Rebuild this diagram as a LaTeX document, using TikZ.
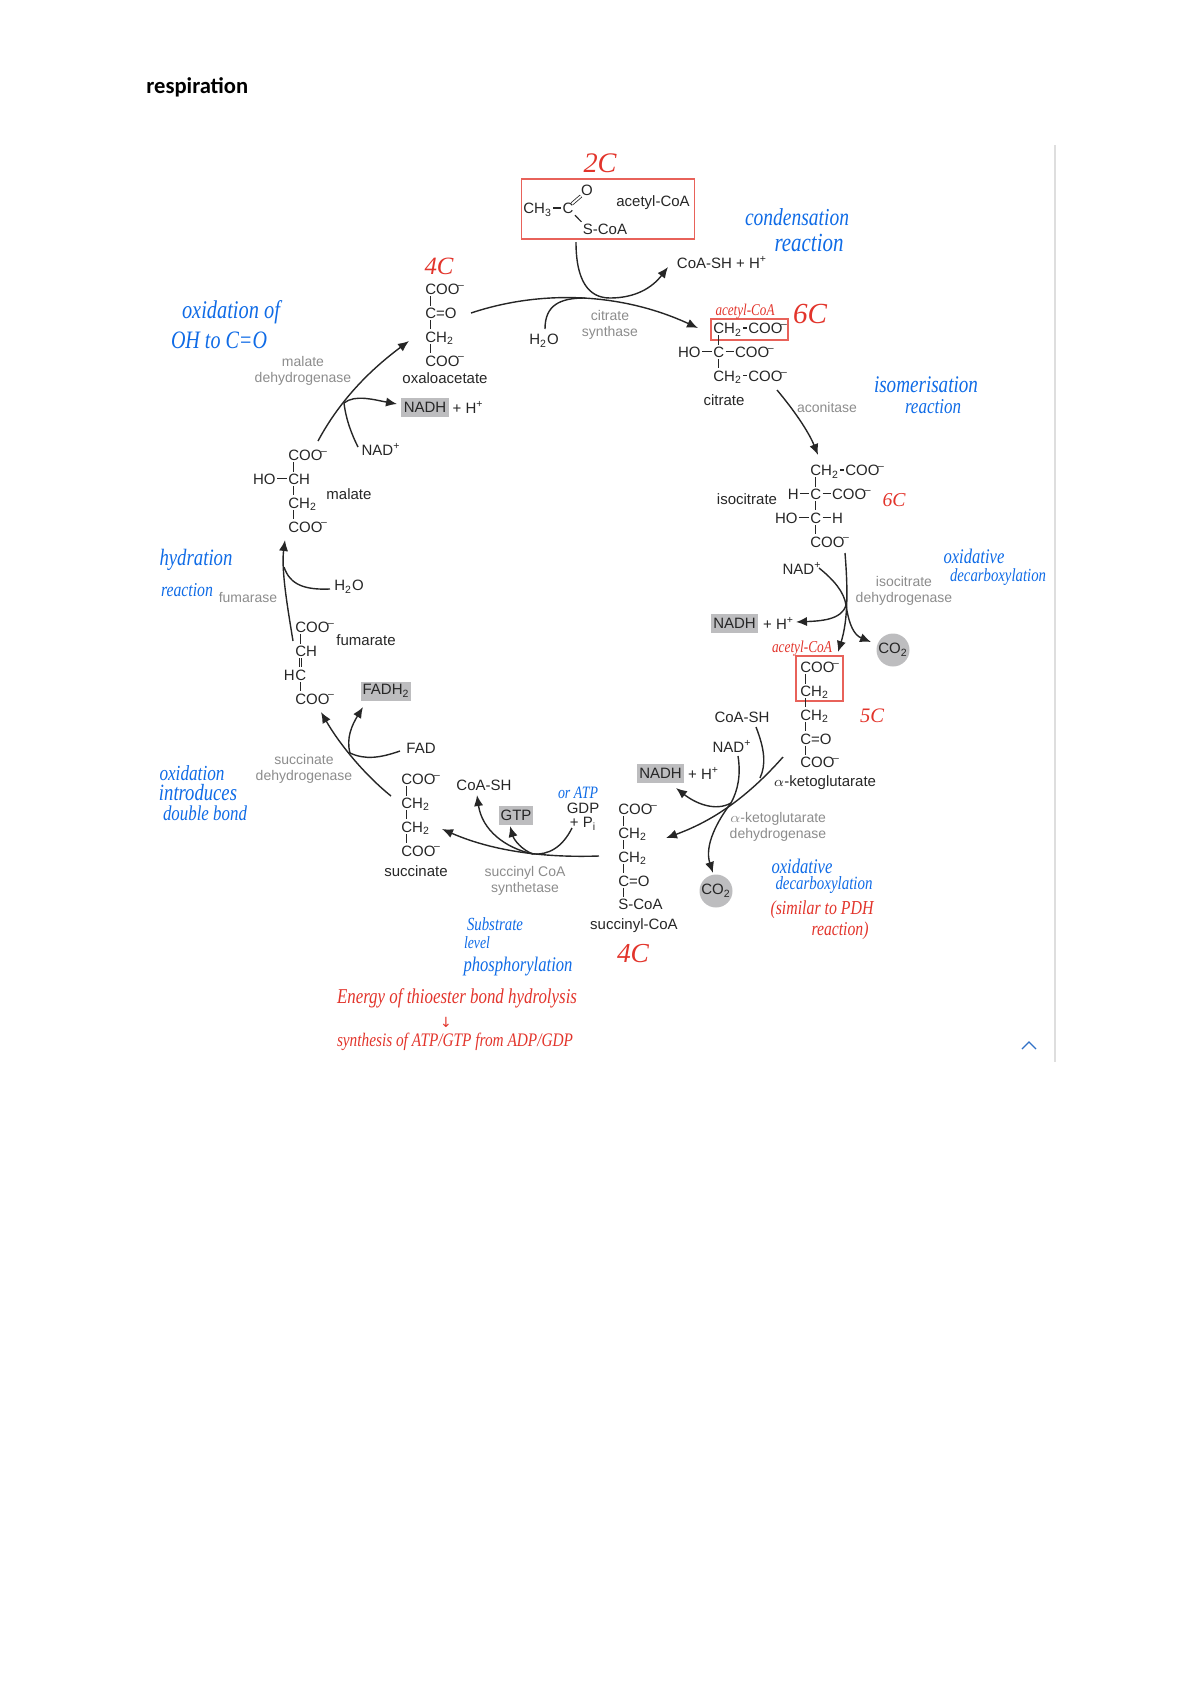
\documentclass[tikz,border=0pt]{standalone}
\usepackage{fontspec}
\usepackage{graphicx}
\setmainfont{Liberation Sans}
\newfontfamily\titlefont{Carlito}
\newfontfamily\handfont{Liberation Serif}
\newfontfamily\symfont{DejaVu Sans}
\usetikzlibrary{positioning, arrows.meta}
\definecolor{inkblack}{HTML}{262626}
\definecolor{enzymegray}{HTML}{8C8C8C}
\definecolor{hlgray}{HTML}{BDBDBF}
\definecolor{penblue}{HTML}{0F6BE6}
\definecolor{penred}{HTML}{E2342B}
\definecolor{boxred}{HTML}{E8625A}
\newcommand{\cooneg}{COO\kern-0.7pt\textsuperscript{--}}
\newcommand{\chtwo}{CH\textsubscript{2}}
\newcommand{\hand}[2]{\scalebox{1}[1.25]{\resizebox{#1}{!}{\handfont\itshape #2}}}
\newcommand{\carbons}[2]{\resizebox{#1}{!}{\handfont\itshape #2}}

\begin{document}
\begin{tikzpicture}[x=0.5pt, y=-0.5pt]
	% Define styles
	\tikzset{
		chem/.style={font=\fontsize{7.5}{9}\selectfont, text=inkblack, anchor=west, inner xsep=0.5pt, inner ysep=0.6pt, text height=5.6pt, text depth=0pt},
		rowbelow/.style={below=4.7pt of #1.south west, anchor=north west},
		cx/.style={xshift=3.2pt},
		molname/.style={font=\fontsize{7.5}{9}\selectfont, text=inkblack, inner sep=1pt},
		enzyme/.style={font=\fontsize{7}{7.75}\selectfont, text=enzymegray, align=center, inner sep=1pt},
		highlight/.style={font=\fontsize{7.5}{9}\selectfont, text=inkblack, fill=hlgray, inner xsep=1.3pt, minimum height=9.5pt, inner ysep=0pt},
		gas/.style={circle, fill=hlgray, text=inkblack, font=\fontsize{7.5}{9}\selectfont, minimum size=16.5pt, inner sep=0pt},
		redbox/.style={rectangle, draw=boxred, line width=0.7pt, inner sep=0pt},
		bluenote/.style={text=penblue, inner sep=0pt},
		rednote/.style={text=penred, inner sep=0pt},
		bond/.style={draw=inkblack, line width=0.55pt},
		line/.style={draw=inkblack, line width=0.7pt, -{Latex[length=5.5pt, width=4.6pt]}},
		feed/.style={draw=inkblack, line width=0.7pt}
	}
	\useasboundingbox (0,0) rectangle (1200,1698);

	% Page furniture
	\node[anchor=base west, inner sep=0pt, font=\titlefont\bfseries\fontsize{11.3}{13}\selectfont] (title) at (146,93) {respiration};
	\coordinate (rulea) at (1055,145);
	\coordinate (ruleb) at (1055,1062);
	\draw[draw=black!13, line width=0.6pt] (rulea) -- (ruleb);
	\coordinate (chevl) at (1022,1049);
	\coordinate (chevm) at (1029,1042);
	\coordinate (chevr) at (1036,1049);
	\draw[draw=penblue!70!gray, line width=0.6pt] (chevl) -- (chevm) -- (chevr);

	% Acetyl-CoA
	\node[redbox, minimum width=86.5pt, minimum height=30pt] (acbox) at (608,209) {};
	\node[chem] (acch) at (522,208) {CH\textsubscript{3}};
	\node[chem, right=4pt of acch] (acc) {C};
	\node[chem, anchor=center] (aco) at (587,190) {O};
	\node[chem, anchor=center] (acs) at (605,229) {S-CoA};
	\node[molname] (acname) at (653,203) {acetyl-CoA};
	\draw[bond] (acch) -- (acc);
	\draw[bond, double, double distance=0.9pt, line width=0.4pt] ([shift={(-1.5pt,-1.5pt)}]acc.north east) -- ([shift={(0.6pt,0.6pt)}]aco.south west);
	\draw[bond] (acc.south east) -- (acs.north west);

	% Oxaloacetate
	\node[chem] (ox1) at (424,289) {\cooneg};
	\node[chem, rowbelow=ox1] (ox2) {C=O};
	\node[chem, rowbelow=ox2] (ox3) {\chtwo};
	\node[chem, rowbelow=ox3] (ox4) {\cooneg};
	\node[molname] (oxname) at (445,378) {oxaloacetate};
	\draw[bond] ([cx]ox1.south west) -- ([cx]ox2.north west);
	\draw[bond] ([cx]ox2.south west) -- ([cx]ox3.north west);
	\draw[bond] ([cx]ox3.south west) -- ([cx]ox4.north west);

	% Citrate
	\node[redbox, minimum width=38.5pt, minimum height=10.5pt] (cibox) at (749.5,329.5) {};
	\node[chem] (ci1) at (712,328) {\chtwo};
	\node[chem, right=1.8pt of ci1] (ci1o) {\cooneg};
	\node[chem, rowbelow=ci1] (ci2) {C};
	\node[chem, left=5pt of ci2] (ci2h) {HO};
	\node[chem, right=4pt of ci2] (ci2o) {\cooneg};
	\node[chem, rowbelow=ci2] (ci3) {\chtwo};
	\node[chem, right=1.8pt of ci3] (ci3o) {\cooneg};
	\node[molname] (ciname) at (724,400) {citrate};
	\draw[bond] (ci1) -- (ci1o);
	\draw[bond] (ci2h) -- (ci2);
	\draw[bond] (ci2) -- (ci2o);
	\draw[bond] (ci3) -- (ci3o);
	\draw[bond] ([cx]ci1.south west) -- ([cx]ci2.north west);
	\draw[bond] ([cx]ci2.south west) -- ([cx]ci3.north west);

	% Isocitrate
	\node[chem] (is1) at (809,470) {\chtwo};
	\node[chem, right=1.8pt of is1] (is1o) {\cooneg};
	\node[chem, rowbelow=is1] (is2) {C};
	\node[chem, left=4.5pt of is2] (is2h) {H};
	\node[chem, right=4pt of is2] (is2o) {\cooneg};
	\node[chem, rowbelow=is2] (is3) {C};
	\node[chem, left=5pt of is3] (is3h) {HO};
	\node[chem, right=4pt of is3] (is3r) {H};
	\node[chem, rowbelow=is3] (is4) {\cooneg};
	\node[molname] (isname) at (747,499) {isocitrate};
	\draw[bond] (is1) -- (is1o);
	\draw[bond] (is2h) -- (is2);
	\draw[bond] (is2) -- (is2o);
	\draw[bond] (is3h) -- (is3);
	\draw[bond] (is3) -- (is3r);
	\draw[bond] ([cx]is1.south west) -- ([cx]is2.north west);
	\draw[bond] ([cx]is2.south west) -- ([cx]is3.north west);
	\draw[bond] ([cx]is3.south west) -- ([cx]is4.north west);

	% Alpha-ketoglutarate
	\node[redbox, minimum width=23.5pt, minimum height=22.5pt] (kgbox) at (819.5,678.5) {};
	\node[chem] (kg1) at (799,667) {\cooneg};
	\node[chem, rowbelow=kg1] (kg2) {\chtwo};
	\node[chem, rowbelow=kg2] (kg3) {\chtwo};
	\node[chem, rowbelow=kg3] (kg4) {C=O};
	\node[chem, rowbelow=kg4] (kg5) {\cooneg};
	\node[molname] (kgname) at (825,783) {$\alpha$-ketoglutarate};
	\draw[bond] ([cx]kg1.south west) -- ([cx]kg2.north west);
	\draw[bond] ([cx]kg2.south west) -- ([cx]kg3.north west);
	\draw[bond] ([cx]kg3.south west) -- ([cx]kg4.north west);
	\draw[bond] ([cx]kg4.south west) -- ([cx]kg5.north west);

	% Succinyl-CoA
	\node[chem] (sc1) at (617,809) {\cooneg};
	\node[chem, rowbelow=sc1] (sc2) {\chtwo};
	\node[chem, rowbelow=sc2] (sc3) {\chtwo};
	\node[chem, rowbelow=sc3] (sc4) {C=O};
	\node[chem, rowbelow=sc4] (sc5) {S-CoA};
	\node[molname] (scname) at (634,926) {succinyl-CoA};
	\draw[bond] ([cx]sc1.south west) -- ([cx]sc2.north west);
	\draw[bond] ([cx]sc2.south west) -- ([cx]sc3.north west);
	\draw[bond] ([cx]sc3.south west) -- ([cx]sc4.north west);
	\draw[bond] ([cx]sc4.south west) -- ([cx]sc5.north west);

	% Succinate
	\node[chem] (su1) at (400,779) {\cooneg};
	\node[chem, rowbelow=su1] (su2) {\chtwo};
	\node[chem, rowbelow=su2] (su3) {\chtwo};
	\node[chem, rowbelow=su3] (su4) {\cooneg};
	\node[molname] (suname) at (416,871) {succinate};
	\draw[bond] ([cx]su1.south west) -- ([cx]su2.north west);
	\draw[bond] ([cx]su2.south west) -- ([cx]su3.north west);
	\draw[bond] ([cx]su3.south west) -- ([cx]su4.north west);

	% Fumarate
	\node[chem] (fu1) at (294,627) {\cooneg};
	\node[chem, rowbelow=fu1] (fu2) {CH};
	\node[chem, rowbelow=fu2] (fu3) {C};
	\node[chem, left=-1pt of fu3] (fu3h) {H};
	\node[chem, rowbelow=fu3] (fu4) {\cooneg};
	\node[molname] (funame) at (366,640) {fumarate};
	\draw[bond] ([cx]fu1.south west) -- ([cx]fu2.north west);
	\draw[bond, double, double distance=0.9pt, line width=0.4pt] ([cx]fu2.south west) -- ([cx]fu3.north west);
	\draw[bond] ([cx]fu3.south west) -- ([cx]fu4.north west);

	% Malate
	\node[chem] (ma1) at (287,455) {\cooneg};
	\node[chem, rowbelow=ma1] (ma2) {CH};
	\node[chem, left=5pt of ma2] (ma2h) {HO};
	\node[chem, rowbelow=ma2] (ma3) {\chtwo};
	\node[chem, rowbelow=ma3] (ma4) {\cooneg};
	\node[molname] (maname) at (349,494) {malate};
	\draw[bond] (ma2h) -- (ma2);
	\draw[bond] ([cx]ma1.south west) -- ([cx]ma2.north west);
	\draw[bond] ([cx]ma2.south west) -- ([cx]ma3.north west);
	\draw[bond] ([cx]ma3.south west) -- ([cx]ma4.north west);

	% Cofactors
	\node[molname] (coash) at (722,263) {CoA-SH + H\textsuperscript{+}};
	\node[molname] (wcs) at (544,341) {H\textsubscript{2}O};
	\node[molname] (nadis) at (802,568) {NAD\textsuperscript{+}};
	\node[highlight] (nadhis) at (734.5,623.5) {NADH};
	\node[molname, right=1pt of nadhis] (hpis) {+ H\textsuperscript{+}};
	\node[gas] (co2is) at (893,650) {CO\textsubscript{2}};
	\node[molname] (coakg) at (742,717) {CoA-SH};
	\node[molname] (nadkg) at (732,746) {NAD\textsuperscript{+}};
	\node[highlight] (nadhkg) at (660.5,773) {NADH};
	\node[molname, right=0.5pt of nadhkg] (hpkg) {+ H\textsuperscript{+}};
	\node[gas] (co2kg) at (716,891) {CO\textsubscript{2}};
	\node[molname] (coasu) at (484,785) {CoA-SH};
	\node[highlight, inner xsep=0.9pt] (gtp) at (516,815) {GTP};
	\node[molname] (gdp) at (583,808) {GDP};
	\node[molname] (pi) at (583,824) {+ P\textsubscript{i}};
	\node[highlight, inner xsep=0.6pt] (fadh) at (386,691) {FADH\textsubscript{2}};
	\node[molname] (fad) at (421,748) {FAD};
	\node[molname] (wfu) at (349,587) {H\textsubscript{2}O};
	\node[molname] (nadma) at (381,449) {NAD\textsuperscript{+}};
	\node[highlight] (nadhma) at (425,407) {NADH};
	\node[molname, right=0.5pt of nadhma] (hpma) {+ H\textsuperscript{+}};

	% Enzymes
	\node[enzyme] (encs) at (610,325) {citrate\\synthase};
	\node[enzyme] (enac) at (827,407) {aconitase};
	\node[enzyme] (enid) at (904,591) {isocitrate\\dehydrogenase};
	\node[enzyme] (enkg) at (778,827) {$\alpha$-ketoglutarate\\dehydrogenase};
	\node[enzyme] (ensc) at (525,881) {succinyl CoA\\synthetase};
	\node[enzyme] (ensd) at (304,769) {succinate\\dehydrogenase};
	\node[enzyme] (enfu) at (248,597) {fumarase};
	\node[enzyme] (enma) at (303,371) {malate\\dehydrogenase};

	% Junctions and free ends
	\coordinate (acout) at (576,242);
	\coordinate (csj) at (610,298);
	\coordinate (csin) at (471,313);
	\coordinate (csout) at (698,328);
	\coordinate (csco) at (668,267);
	\coordinate (cswat) at (545,329);
	\coordinate (cswatj) at (585,298);
	\coordinate (acin) at (777,390);
	\coordinate (acend) at (818,455);
	\coordinate (idin) at (845,553);
	\coordinate (idj) at (846,605);
	\coordinate (idend) at (838,652);
	\coordinate (idnad) at (819,568);
	\coordinate (idnadh) at (796,622);
	\coordinate (idco) at (871,642);
	\coordinate (kgin) at (783,757);
	\coordinate (kgj) at (731,803);
	\coordinate (kgend) at (666,838);
	\coordinate (kgnad) at (738,756);
	\coordinate (kgcoa) at (756,727);
	\coordinate (kgcoaj) at (760,778);
	\coordinate (kgnadh) at (676,788);
	\coordinate (kgco) at (713,873);
	\coordinate (scin) at (599,856);
	\coordinate (scj) at (533,854);
	\coordinate (scend) at (442,829);
	\coordinate (sccoa) at (477,795);
	\coordinate (scgtp) at (510,826);
	\coordinate (scgdp) at (572,828);
	\coordinate (sdin) at (391,796);
	\coordinate (sdj) at (350,753);
	\coordinate (sdend) at (321,712);
	\coordinate (sdfadh) at (363,707);
	\coordinate (sdfad) at (400,751);
	\coordinate (fuin) at (293,641);
	\coordinate (fuj) at (284,567);
	\coordinate (fuend) at (285,540);
	\coordinate (fuwat) at (330,589);
	\coordinate (main) at (318,441);
	\coordinate (maj) at (344,403);
	\coordinate (maend) at (409,341);
	\coordinate (manad) at (358,447);
	\coordinate (manadh) at (397,404);

	% Arrows
	\draw[line] (csin) .. controls (540,290) and (620,292) .. (csout);
	\draw[feed] (acout) .. controls (576,280) and (588,298) .. (csj);
	\draw[line] (csj) .. controls (635,298) and (652,288) .. (csco);
	\draw[feed] (cswat) .. controls (545,305) and (560,298) .. (cswatj);

	\draw[line] (acin) .. controls (798,415) and (810,435) .. (acend);

	\draw[line] (idin) .. controls (848,590) and (848,620) .. (idend);
	\draw[feed] (idnad) .. controls (834,580) and (844,592) .. (idj);
	\draw[line] (idj) .. controls (842,620) and (820,621) .. (idnadh);
	\draw[line] (idj) .. controls (849,625) and (854,635) .. (idco);

	\draw[line] (kgin) .. controls (745,800) and (710,822) .. (kgend);
	\draw[feed] (kgnad) .. controls (741,775) and (738,790) .. (kgj);
	\draw[feed] (kgcoa) .. controls (765,750) and (766,765) .. (kgcoaj);
	\draw[line] (kgj) .. controls (715,812) and (695,803) .. (kgnadh);
	\draw[line] (kgj) .. controls (718,820) and (704,845) .. (kgco);

	\draw[line] (scin) .. controls (540,858) and (490,850) .. (scend);
	\draw[line] (scj) .. controls (505,848) and (482,830) .. (sccoa);
	\draw[line] (scj) .. controls (522,850) and (514,840) .. (scgtp);
	\draw[feed] (scgdp) .. controls (562,848) and (548,855) .. (scj);

	\draw[line] (sdin) .. controls (365,775) and (340,745) .. (sdend);
	\draw[line] (sdj) .. controls (346,738) and (352,725) .. (sdfadh);
	\draw[feed] (sdfad) .. controls (380,758) and (365,760) .. (sdj);

	\draw[line] (fuin) .. controls (288,610) and (281,570) .. (fuend);
	\draw[feed] (fuwat) .. controls (305,590) and (290,585) .. (fuj);

	\draw[line] (main) .. controls (340,400) and (370,370) .. (maend);
	\draw[feed] (manad) .. controls (352,435) and (346,420) .. (maj);
	\draw[line] (maj) .. controls (355,394) and (375,400) .. (manadh);

	% Handwritten notes
	\node[rednote] (ntwoc) at (600,163) {\carbons{16.5pt}{2C}};
	\node[rednote] (nfourc) at (439,266) {\carbons{14.5pt}{4C}};
	\node[rednote] (nsixc) at (810,314) {\carbons{17pt}{6C}};
	\node[rednote] (nsixi) at (894,500) {\carbons{11.5pt}{6C}};
	\node[rednote] (nfivec) at (872,716) {\carbons{12pt}{5C}};
	\node[rednote] (nfours) at (633,954) {\carbons{16pt}{4C}};
	\node[rednote] (nacci) at (745,312) {\hand{29.5pt}{acetyl-CoA}};
	\node[rednote] (nackg) at (802,649) {\hand{30pt}{acetyl-CoA}};
	\node[bluenote] (ncon) at (797,217) {\hand{52pt}{condensation}};
	\node[bluenote] (nconr) at (809,243) {\hand{34.5pt}{reaction}};
	\node[bluenote] (niso) at (926,385) {\hand{52pt}{isomerisation}};
	\node[bluenote] (nisor) at (933,407) {\hand{28pt}{reaction}};
	\node[bluenote] (nox) at (974,556) {\hand{30.5pt}{oxidative}};
	\node[bluenote] (noxd) at (998,577) {\hand{48pt}{decarboxylation}};
	\node[bluenote] (nkg) at (802,866) {\hand{30.5pt}{oxidative}};
	\node[bluenote] (nkgd) at (824,885) {\hand{48.5pt}{decarboxylation}};
	\node[rednote] (nsim) at (822,910) {\hand{51.5pt}{(similar to PDH}};
	\node[rednote] (nsimr) at (840,931) {\hand{28.5pt}{reaction)}};
	\node[bluenote] (nmal) at (231,312) {\hand{49pt}{oxidation of}};
	\node[bluenote] (nmalo) at (219,340) {\hand{48pt}{OH to C=O}};
	\node[bluenote] (nhyd) at (196,560) {\hand{36.5pt}{hydration}};
	\node[bluenote] (nhydr) at (187,590) {\hand{26pt}{reaction}};
	\node[bluenote] (ndbl) at (192,773) {\hand{32.5pt}{oxidation}};
	\node[bluenote] (ndbli) at (198,793) {\hand{39pt}{introduces}};
	\node[bluenote] (ndbld) at (205,813) {\hand{42pt}{double bond}};
	\node[bluenote] (natp) at (578,793) {\hand{20pt}{or ATP}};
	\node[bluenote] (nsub) at (495,924) {\hand{28pt}{Substrate}};
	\node[bluenote] (nsubl) at (477,943) {\hand{13pt}{level}};
	\node[bluenote] (nsubp) at (518,967) {\hand{54.5pt}{phosphorylation}};
	\node[rednote] (nen) at (457,998) {\hand{120pt}{Energy of thioester bond hydrolysis}};
	\node[rednote, font=\symfont\fontsize{7}{8}\selectfont] (nar) at (446,1022) {↓};
	\node[rednote] (nsyn) at (455,1042) {\hand{118pt}{synthesis of ATP/GTP from ADP/GDP}};
\end{tikzpicture}
\end{document}
